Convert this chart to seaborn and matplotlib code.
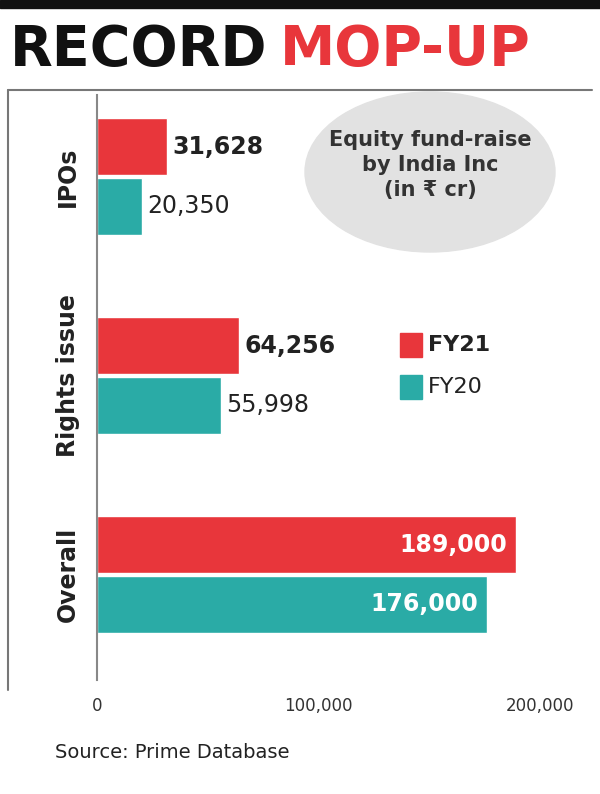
import matplotlib
matplotlib.use("Agg")
import matplotlib.pyplot as plt
import matplotlib.patches as mpatches
import pandas as pd
import seaborn as sns

categories = ["IPOs", "Rights issue", "Overall"]
fy21 = [31628, 64256, 189000]
fy20 = [20350, 55998, 176000]
labels21 = ["31,628", "64,256", "189,000"]
labels20 = ["20,350", "55,998", "176,000"]

RED = "#e8363b"
TEAL = "#2aaba6"

df = pd.DataFrame({
    "cat": categories * 2,
    "val": fy21 + fy20,
    "year": ["FY21"] * 3 + ["FY20"] * 3,
})

sns.set_style("white")
plt.rcParams["font.family"] = ["DejaVu Sans"]

fig = plt.figure(figsize=(6, 7.94), dpi=100)
W, H = 600, 794
ax = fig.add_axes([97 / W, 1 - 680 / H, (540 - 97) / W, (680 - 95) / H])

sns.barplot(data=df, y="cat", x="val", hue="year", orient="h",
            palette={"FY21": RED, "FY20": TEAL}, width=0.6, gap=0.05,
            legend=False, ax=ax, saturation=1)

ax.set_xlim(0, 200000)
ax.set_ylim(2.53, -0.41)
ax.set_xlabel("")
ax.set_ylabel("")
ax.set_yticks([])
ax.set_xticks([0, 100000, 200000])
ax.set_xticklabels(["0", "100,000", "200,000"], fontsize=12, color="#333")
ax.tick_params(axis="x", length=0, pad=12)
for s in ["top", "right", "bottom"]:
    ax.spines[s].set_visible(False)
ax.spines["left"].set_color("#888")
ax.spines["left"].set_linewidth(1.5)

for i, c in enumerate(categories):
    ax.text(-0.065, i, c, transform=ax.get_yaxis_transform(), rotation=90,
            ha="center", va="center", fontsize=17, fontweight="bold", color="#222")
    y21, y20 = i - 0.15, i + 0.15
    if fy21[i] > 150000:
        ax.text(fy21[i] - 4000, y21, labels21[i], ha="right", va="center",
                fontsize=17, fontweight="bold", color="white")
        ax.text(fy20[i] - 4000, y20, labels20[i], ha="right", va="center",
                fontsize=17, fontweight="bold", color="white")
    else:
        ax.text(fy21[i] + 2500, y21, labels21[i], ha="left", va="center",
                fontsize=17, fontweight="bold", color="#222")
        ax.text(fy20[i] + 2500, y20, labels20[i], ha="left", va="center",
                fontsize=17, color="#222")

# grey circle behind annotation
fig.patches.append(mpatches.Ellipse((430 / W, 1 - 172 / H), 250 / W, 160 / H,
                                    transform=fig.transFigure, color="#e2e2e2",
                                    zorder=0))
fig.text(430 / W, 1 - 165 / H, "Equity fund-raise\nby India Inc\n(in \u20b9 cr)",
         ha="center", va="center", fontsize=15, fontweight="bold",
         color="#333", linespacing=1.3)

# legend
for k, (lab, col) in enumerate([("FY21", RED), ("FY20", TEAL)]):
    yy = 1 - (345 + 42 * k) / H
    fig.patches.append(mpatches.Rectangle((400 / W, yy - 12 / H), 22 / W, 24 / H,
                                          transform=fig.transFigure, color=col))
    fig.text(428 / W, yy, lab, ha="left", va="center", fontsize=16,
             fontweight="bold" if k == 0 else "normal", color="#222")

# frame and top bar
fig.patches.append(mpatches.Rectangle((0, 1 - 8 / H), 1, 8 / H,
                                      transform=fig.transFigure, color="#111"))
fig.add_artist(plt.Line2D([8 / W, 592 / W], [1 - 90 / H] * 2, color="#777", lw=1.5))
fig.add_artist(plt.Line2D([8 / W, 8 / W], [1 - 90 / H, 1 - 690 / H], color="#777", lw=1.5))

fig.text(10 / W, 1 - 50 / H, "RECORD", fontsize=40, fontweight="heavy",
         color="#111", va="center")
fig.text(280 / W, 1 - 50 / H, "MOP-UP", fontsize=40, fontweight="heavy",
         color=RED, va="center")
fig.text(55 / W, 1 - 752 / H, "Source: Prime Database", fontsize=14,
         color="#222", va="center")

fig.savefig("out.png", dpi=100)
